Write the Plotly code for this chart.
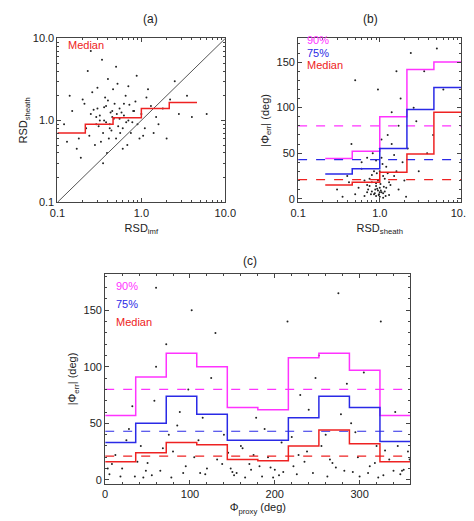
import numpy as np
import plotly.graph_objects as go

# ---- panel (a): RSD_sheath vs RSD_imf ----
a_x = [0.12, 0.15, 0.18, 0.2, 0.22, 0.25, 0.28, 0.3, 0.32, 0.35, 0.38, 0.4, 0.42, 0.45, 0.5, 0.55,
       0.6, 0.65, 0.7, 0.75, 0.8, 0.9, 1.0, 1.1, 1.3, 1.5, 1.8, 2.2, 2.8, 3.5, 0.17, 0.21, 0.26, 0.33,
       0.37, 0.44, 0.52, 0.58, 0.68, 0.85, 0.95, 1.2, 0.14, 0.19, 0.24, 0.29, 0.36, 0.48, 0.62, 0.78,
       1.05, 1.4, 0.23, 0.27, 0.31, 0.34, 0.41, 0.47, 0.53, 0.72, 0.88, 1.6, 2.0, 0.13, 0.3, 0.39,
       0.46, 0.56, 0.66, 0.82, 0.25, 0.35, 0.43, 0.5, 0.6, 0.7, 1.15, 2.5, 4.0, 6.0,
       0.32, 0.38, 0.45, 0.55, 0.42, 0.36, 0.29, 0.62, 0.51, 0.4]
a_y = [0.9, 1.3, 0.6, 1.8, 0.8, 1.2, 0.5, 2.5, 1.0, 0.7, 1.5, 3.2, 0.9, 1.1, 0.6, 1.4,
       0.8, 2.0, 1.0, 0.7, 1.3, 0.9, 1.2, 0.8, 1.5, 1.1, 1.4, 1.8, 1.2, 2.0, 0.45, 1.6, 2.2, 0.55,
       1.9, 0.75, 2.8, 1.25, 0.5, 1.7, 0.6, 2.4, 2.0, 0.35, 0.65, 1.1, 1.0, 1.6, 1.15, 0.95,
       0.65, 0.7, 4.0, 1.35, 0.85, 5.5, 0.6, 1.05, 0.85, 1.55, 3.5, 0.9, 0.6, 0.55, 1.4, 0.4,
       2.4, 0.7, 0.95, 1.3, 7.0, 0.3, 1.25, 4.5, 0.45, 2.6, 1.9, 3.0, 1.1, 1.2,
       1.15, 0.95, 1.3, 1.05, 0.8, 1.45, 0.9, 1.6, 1.2, 1.75]
a_bin_edges = [0.1, 0.215, 0.46, 1.0, 2.15, 4.6]
a_median = [0.7, 0.9, 1.08, 1.4, 1.65]

# ---- panel (b): |phi_err| vs RSD_sheath ----
b_x = [0.3, 0.4, 0.5, 0.6, 0.7, 0.8, 0.85, 0.9, 0.95, 1.0, 1.05, 1.1, 1.2, 1.3, 1.4, 1.5, 1.7,
       1.9, 2.2, 2.6, 3.0, 3.5, 4.5, 6.0, 0.55, 0.65, 0.75, 0.82, 0.88, 0.92, 0.98, 1.02, 1.08,
       1.15, 1.25, 1.35, 1.6, 1.8, 0.45, 0.7, 0.8, 0.9, 1.0, 1.1, 1.2, 1.4, 0.6, 0.75, 0.95,
       1.05, 1.3, 1.5, 2.0, 2.4, 0.35, 0.5, 0.85, 1.0, 1.15, 1.7, 2.8, 0.9, 1.0, 1.1, 0.8, 0.7,
       1.25, 0.95, 1.05, 0.65, 3.8, 5.0, 0.42, 1.6, 2.1,
       0.87, 0.93, 0.97, 1.03, 1.12, 0.78, 0.72, 1.18, 0.9, 1.0]
b_y = [10, 25, 5, 40, 15, 8, 30, 3, 20, 12, 45, 6, 35, 18, 60, 25, 80,
       40, 55, 100, 30, 140, 70, 120, 12, 3, 22, 50, 10, 28, 5, 16, 38,
       8, 70, 15, 30, 110, 60, 7, 18, 42, 2, 25, 12, 95, 33, 14, 9,
       65, 4, 48, 20, 160, 2, 130, 5, 30, 22, 10, 85, 14, 55, 1, 26, 45,
       28, 120, 7, 20, 50, 165, 18, 140, 2,
       6, 11, 4, 9, 13, 5, 10, 3, 17, 7]
b_bin_edges = [0.215, 0.46, 1.0, 2.15, 4.6, 10.0]
b_p90 = [44, 52, 90, 142, 150]
b_p75 = [27, 33, 55, 98, 122]
b_med = [15, 18, 29, 49, 95]
ref_p90, ref_p75, ref_med = 80, 43, 21

# ---- panel (c): |phi_err| vs phi_proxy ----
c_x = [5, 12, 20, 28, 35, 42, 50, 58, 65, 72, 80, 88, 95, 102, 110, 118, 125, 132, 140, 148,
       155, 162, 170, 178, 185, 192, 200, 208, 215, 222, 230, 238, 245, 252, 260, 268, 275, 282,
       290, 298, 305, 312, 320, 328, 335, 342, 350, 357, 8, 25, 45, 60, 85, 105, 130, 150, 175,
       195, 220, 240, 265, 285, 310, 330, 352, 60, 38, 55, 75, 98, 120, 145, 165, 188, 210, 235,
       255, 278, 300, 325, 345, 3, 32, 68, 92, 115, 138, 160, 182, 205, 228, 248, 272, 295, 318,
       340, 359, 18, 48, 78, 112, 152, 172, 198, 226, 262, 292, 322, 348]
c_y = [5, 22, 10, 45, 3, 30, 15, 70, 8, 120, 25, 60, 12, 150, 35, 5, 90, 18, 40, 10,
       6, 28, 14, 55, 3, 20, 9, 33, 140, 12, 75, 25, 6, 110, 40, 15, 165, 8, 50, 20,
       95, 12, 30, 4, 18, 60, 8, 25, 14, 35, 2, 100, 48, 20, 130, 7, 22,
       11, 38, 62, 18, 85, 6, 26, 9, 170, 16, 4, 40, 80, 10, 24, 2, 45, 7, 16,
       30, 58, 3, 140, 30, 10, 65, 28, 6, 55, 14, 30, 12, 4, 22, 90, 11, 42, 15,
       8, 18, 3, 8, 2, 6, 4, 9, 2, 5, 3, 7, 2, 5]
c_bin_edges = [0, 36, 72, 108, 144, 180, 216, 252, 288, 324, 360]
c_p90 = [57, 91, 112, 100, 64, 62, 108, 112, 97, 57]
c_p75 = [33, 50, 74, 58, 35, 35, 55, 74, 64, 34]
c_med = [16, 24, 33, 31, 18, 17, 30, 44, 32, 16]

MAGENTA = "#ff33ff"
BLUE = "#2a2ae6"
RED = "#ee2222"
FONT = "Liberation Sans, Arial, sans-serif"


def steps(edges, vals):
    xs, ys = [], []
    for i, v in enumerate(vals):
        xs += [edges[i], edges[i + 1]]
        ys += [v, v]
    return xs, ys


fig = go.Figure()
dots = dict(mode="markers", marker=dict(size=2, color="#222222"), showlegend=False,
            hoverinfo="skip")

# panel a
fig.add_trace(go.Scatter(x=a_x, y=a_y, xaxis="x", yaxis="y", **dots))
fig.add_trace(go.Scatter(x=[0.1, 10], y=[0.1, 10], xaxis="x", yaxis="y", mode="lines",
                         line=dict(color="#555555", width=1), showlegend=False))
sx, sy = steps(a_bin_edges, a_median)
fig.add_trace(go.Scatter(x=sx, y=sy, xaxis="x", yaxis="y", mode="lines",
                         line=dict(color=RED, width=1.5), showlegend=False))

# panel b
fig.add_trace(go.Scatter(x=b_x, y=b_y, xaxis="x2", yaxis="y2", **dots))
for vals, ref, col in [(b_p90, ref_p90, MAGENTA), (b_p75, ref_p75, BLUE), (b_med, ref_med, RED)]:
    fig.add_trace(go.Scatter(x=[0.1, 10], y=[ref, ref], xaxis="x2", yaxis="y2", mode="lines",
                             line=dict(color=col, width=1.2, dash="dash"), showlegend=False))
    sx, sy = steps(b_bin_edges, vals)
    fig.add_trace(go.Scatter(x=sx, y=sy, xaxis="x2", yaxis="y2", mode="lines",
                             line=dict(color=col, width=1.5), showlegend=False))

# panel c
fig.add_trace(go.Scatter(x=c_x, y=c_y, xaxis="x3", yaxis="y3", **dots))
for vals, ref, col in [(c_p90, ref_p90, MAGENTA), (c_p75, ref_p75, BLUE), (c_med, ref_med, RED)]:
    fig.add_trace(go.Scatter(x=[0, 360], y=[ref, ref], xaxis="x3", yaxis="y3", mode="lines",
                             line=dict(color=col, width=1.2, dash="dash"), showlegend=False))
    sx, sy = steps(c_bin_edges, vals)
    fig.add_trace(go.Scatter(x=sx, y=sy, xaxis="x3", yaxis="y3", mode="lines",
                             line=dict(color=col, width=1.5), showlegend=False))

box = dict(showline=True, linecolor="#444444", linewidth=1, mirror="ticks", ticks="inside",
           ticklen=4, tickcolor="#444444", showgrid=False, zeroline=False,
           tickfont=dict(size=11, color="#222222"))
logticks = dict(type="log", range=[-1, 1], tickvals=[0.1, 1, 10],
                ticktext=["0.1", "1.0", "10.0"],
                minor=dict(ticks="inside", ticklen=2, tickcolor="#444444",
                           tickvals=[0.2, 0.3, 0.4, 0.5, 0.6, 0.7, 0.8, 0.9,
                                     2, 3, 4, 5, 6, 7, 8, 9]))
title_font = dict(size=11, color="#222222")

fig.update_layout(
    width=474, height=521, margin=dict(l=0, r=0, t=0, b=0),
    paper_bgcolor="white", plot_bgcolor="white", font=dict(family=FONT),
    xaxis=dict(domain=[0.091, 0.46], anchor="y", **box, **logticks,
               title=dict(text="RSD<sub>imf</sub>", font=title_font, standoff=6)),
    yaxis=dict(domain=[0.630, 0.952], anchor="x", **box, **logticks,
               title=dict(text="RSD<sub>sheath</sub>", font=title_font, standoff=2)),
    xaxis2=dict(domain=[0.620, 0.979], anchor="y2", **box, **logticks,
                title=dict(text="RSD<sub>sheath</sub>", font=title_font, standoff=6)),
    yaxis2=dict(domain=[0.630, 0.952], anchor="x2", **box, range=[-4, 176],
                tickvals=[0, 50, 100, 150],
                minor=dict(ticks="inside", ticklen=2, dtick=10, tickcolor="#444444"),
                title=dict(text="|Φ<sub>err</sub>| (deg)", font=title_font, standoff=4)),
    xaxis3=dict(domain=[0.196, 0.867], anchor="y3", **box, range=[0, 360],
                tickvals=[0, 100, 200, 300],
                minor=dict(ticks="inside", ticklen=2, dtick=20, tickcolor="#444444"),
                title=dict(text="Φ<sub>proxy</sub> (deg)", font=title_font, standoff=4)),
    yaxis3=dict(domain=[0.077, 0.489], anchor="x3", **box, range=[-3.5, 182],
                tickvals=[0, 50, 100, 150],
                minor=dict(ticks="inside", ticklen=2, dtick=10, tickcolor="#444444"),
                title=dict(text="|Φ<sub>err</sub>| (deg)", font=title_font, standoff=4)),
)

annots = [
    dict(text="(a)", x=0.275, y=0.99, xref="paper", yref="paper", font=dict(size=12)),
    dict(text="(b)", x=0.80, y=0.99, xref="paper", yref="paper", font=dict(size=12)),
    dict(text="(c)", x=0.515, y=0.515, xref="paper", yref="paper", font=dict(size=12)),
    dict(text="Median", x=0.11, y=0.94, xref="paper", yref="paper", xanchor="left",
         font=dict(size=11, color=RED)),
    dict(text="90%", x=0.635, y=0.948, xref="paper", yref="paper", xanchor="left",
         font=dict(size=11, color=MAGENTA)),
    dict(text="75%", x=0.635, y=0.924, xref="paper", yref="paper", xanchor="left",
         font=dict(size=11, color=BLUE)),
    dict(text="Median", x=0.635, y=0.900, xref="paper", yref="paper", xanchor="left",
         font=dict(size=11, color=RED)),
    dict(text="90%", x=0.215, y=0.465, xref="paper", yref="paper", xanchor="left",
         font=dict(size=11, color=MAGENTA)),
    dict(text="75%", x=0.215, y=0.430, xref="paper", yref="paper", xanchor="left",
         font=dict(size=11, color=BLUE)),
    dict(text="Median", x=0.215, y=0.395, xref="paper", yref="paper", xanchor="left",
         font=dict(size=11, color=RED)),
]
for a in annots:
    a.update(showarrow=False, yanchor="middle")
    a["font"]["family"] = FONT
    a["font"].setdefault("color", "#222222")
fig.update_layout(annotations=annots)

fig.write_html("out.html")
